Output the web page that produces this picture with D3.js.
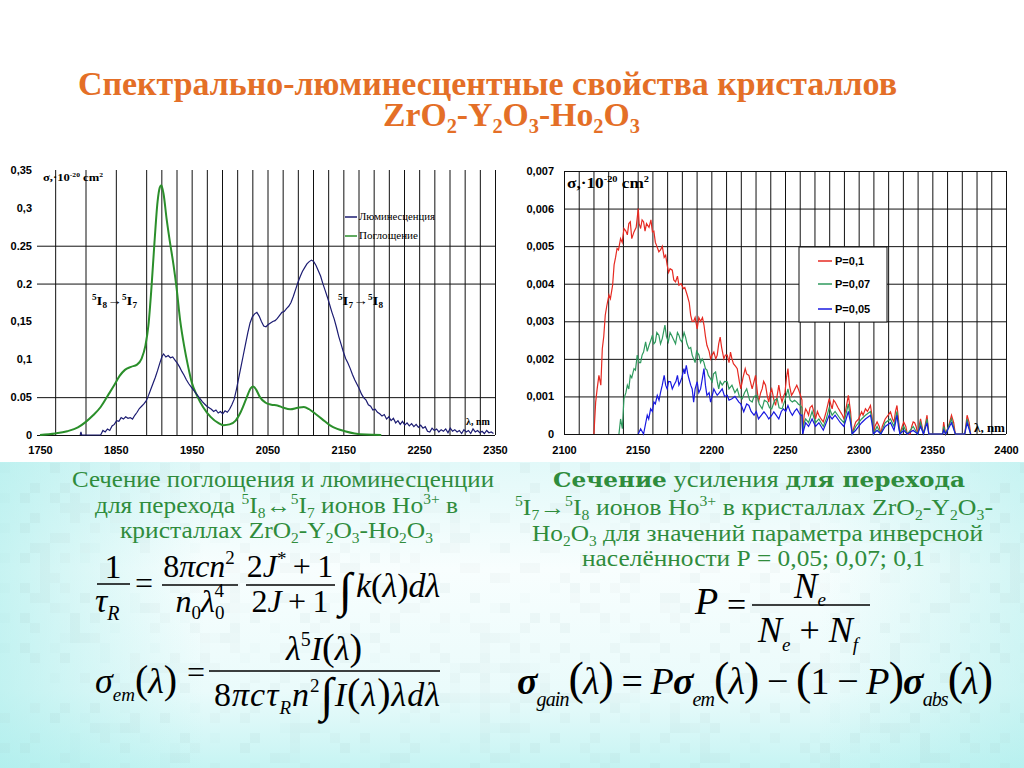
<!DOCTYPE html>
<html>
<head>
<meta charset="utf-8">
<script src="https://cdnjs.cloudflare.com/ajax/libs/d3/7.8.5/d3.min.js"></script>
<style>
  body { margin: 0; background: #fff; }
  svg { display: block; }
</style>
</head>
<body>
<div id="main"></div>
<script>
// ---- left chart: absorption / luminescence cross sections, [nm, sigma] ----
var absorption = [
  [1750,0],[1770,0.002],[1786,0.005],[1800,0.010],[1810,0.017],[1820,0.026],[1830,0.037],
  [1840,0.053],[1848,0.066],[1855,0.078],[1862,0.086],[1870,0.090],[1878,0.093],[1884,0.101],
  [1889,0.118],[1893,0.145],[1897,0.195],[1901,0.255],[1905,0.308],[1908,0.327],[1910,0.330],
  [1913,0.318],[1917,0.285],[1921,0.257],[1926,0.225],[1930,0.195],[1935,0.150],[1940,0.118],
  [1945,0.092],[1950,0.070],[1957,0.052],[1965,0.037],[1975,0.024],[1985,0.016],[1992,0.013],
  [2000,0.014],[2008,0.019],[2015,0.031],[2022,0.048],[2028,0.062],[2031,0.064],[2035,0.060],
  [2040,0.050],[2047,0.043],[2055,0.040],[2063,0.039],[2071,0.036],[2080,0.034],[2090,0.036],
  [2098,0.037],[2105,0.034],[2113,0.028],[2122,0.021],[2132,0.013],[2142,0.008],[2152,0.005],
  [2165,0.002],[2180,0.0005],[2200,0]
];
var luminescence = [
  [1803,0],[1804,0.004],[1805,0],[1830,0],[1833,0.006],[1836,0.004],[1839,0.008],[1842,0.006],
  [1845,0.012],[1848,0.014],[1851,0.019],[1854,0.018],[1857,0.023],[1860,0.021],[1863,0.024],
  [1866,0.022],[1869,0.023],[1872,0.021],[1875,0.026],[1878,0.030],[1881,0.035],[1884,0.038],
  [1887,0.041],[1890,0.045],[1893,0.052],[1896,0.060],[1899,0.068],[1902,0.076],[1905,0.085],
  [1908,0.095],[1911,0.104],[1913,0.107],[1916,0.103],[1919,0.105],[1922,0.102],[1925,0.103],
  [1928,0.099],[1931,0.095],[1934,0.090],[1937,0.084],[1940,0.079],[1943,0.073],[1946,0.068],
  [1949,0.064],[1952,0.060],[1955,0.056],[1958,0.052],[1961,0.048],[1964,0.044],[1967,0.041],
  [1970,0.038],[1973,0.036],[1976,0.034],[1979,0.031],[1982,0.033],[1985,0.029],[1988,0.031],
  [1991,0.028],[1994,0.032],[1997,0.030],[2000,0.034],[2003,0.040],[2006,0.047],[2009,0.060],
  [2012,0.075],[2015,0.090],[2018,0.105],[2021,0.120],[2024,0.135],[2027,0.148],[2030,0.156],
  [2033,0.160],[2036,0.162],[2039,0.157],[2042,0.150],[2045,0.144],[2048,0.143],[2051,0.146],
  [2054,0.148],[2057,0.150],[2060,0.151],[2063,0.154],[2066,0.158],[2069,0.162],[2072,0.163],
  [2075,0.167],[2078,0.170],[2081,0.175],[2084,0.183],[2087,0.192],[2090,0.201],[2093,0.209],
  [2096,0.216],[2099,0.221],[2102,0.226],[2105,0.229],[2108,0.231],[2111,0.229],[2114,0.224],
  [2117,0.217],[2120,0.210],[2123,0.200],[2126,0.191],[2129,0.182],[2132,0.172],[2135,0.162],
  [2138,0.153],[2141,0.142],[2144,0.130],[2147,0.120],[2150,0.110],[2153,0.101],[2156,0.095],
  [2159,0.088],[2162,0.080],[2165,0.073],[2168,0.067],[2171,0.061],[2174,0.054],[2177,0.049],
  [2180,0.046],[2183,0.040],[2186,0.038],[2189,0.033],[2192,0.034],[2195,0.030],[2198,0.028],
  [2201,0.025],[2204,0.027],[2207,0.021],[2210,0.024],[2213,0.019],[2216,0.022],[2219,0.016],
  [2222,0.019],[2225,0.014],[2228,0.018],[2231,0.013],[2234,0.016],[2237,0.012],[2240,0.015],
  [2243,0.011],[2246,0.014],[2249,0.010],[2252,0.013],[2255,0.009],[2258,0.011],[2261,0.005],
  [2264,0.004],[2267,0.009],[2270,0.006],[2273,0.008],[2276,0.004],[2279,0.007],[2282,0.005],
  [2285,0.008],[2288,0.003],[2291,0.009],[2294,0.005],[2297,0.007],[2300,0.004],[2303,0.006],
  [2306,0.002],[2309,0.007],[2312,0.004],[2315,0.006],[2318,0.002],[2321,0.008],[2324,0.004],
  [2327,0.006],[2330,0.003],[2333,0.005],[2336,0.002],[2339,0.006],[2342,0.003],[2345,0.004],
  [2348,0.002]
];
var xLabelsL = ['1750', '1850', '1950', '2050', '2150', '2250', '2350'];
var yValuesL = [0.35, 0.3, 0.25, 0.2, 0.15, 0.1, 0.05, 0];
var yLabelsL = ['0,35', '0,3', '0.25', '0.2', '0,15', '0,1', '0.05', '0'];
var vGridL = [1770, 1810, 1850, 1890, 1910, 1930, 1950, 1970, 1990, 2010, 2030, 2050, 2070,
  2090, 2110, 2130, 2150, 2170, 2190, 2210, 2230, 2250, 2270, 2290, 2310, 2330, 2350];
var hGridL = [0, 0.05, 0.2, 0.25];
var legendL = ['Люминесценция', 'Поглощение'];

// ---- right chart: gain cross section for P = 0.1, 0.07, 0.05 ----
var gainP10 = [
  [2120.3,0],[2121.5,0.00085],[2122.5,0.0012],[2123.7,0.00156],[2125,0.0013],[2126,0.00227],
  [2127,0.0026],[2128,0.00316],[2129,0.0034],[2130.5,0.0037],[2131.5,0.0036],[2133,0.00396],
  [2134,0.0045],[2135,0.0047],[2136,0.00494],[2137,0.0049],[2138.4,0.0052],[2139.5,0.0051],
  [2140.7,0.00547],[2142,0.0054],[2143,0.0053],[2144,0.0056],[2145,0.00565],[2146,0.0052],
  [2147.5,0.00538],[2149,0.0055],[2150.4,0.006],[2151,0.0056],[2152,0.00547],[2153,0.0057],
  [2154,0.00565],[2155,0.0054],[2156,0.0056],[2157.7,0.0055],[2159,0.0057],[2160,0.00538],
  [2161,0.0054],[2162,0.0051],[2163,0.0050],[2164.4,0.00485],[2165.5,0.0049],[2166.7,0.005],
  [2168,0.0047],[2169,0.00476],[2170,0.0045],[2171,0.0043],[2172,0.0044],[2173.5,0.00436],
  [2174.5,0.0041],[2175.7,0.00405],[2177,0.0042],[2178,0.00396],[2179.5,0.0040],[2181,0.00387],
  [2182,0.0039],[2183.6,0.0037],[2185,0.0035],[2186,0.00316],[2187,0.0030],[2188,0.003],
  [2189,0.0031],[2190.4,0.0028],[2191.5,0.0031],[2192.7,0.003],[2194,0.0031],[2195,0.0029],
  [2196,0.0026],[2197,0.00236],[2198.5,0.0022],[2199.5,0.002],[2200.5,0.0021],[2201.7,0.00218],
  [2203,0.0020],[2204,0.0021],[2205,0.0024],[2206,0.00258],[2207,0.0023],[2208.5,0.002],
  [2209.5,0.0021],[2210.8,0.0021],[2212,0.0019],[2213,0.00218],[2214,0.0020],[2215,0.00187],
  [2216.5,0.0018],[2217.6,0.00174],[2219,0.0014],[2220,0.0012],[2221.5,0.0015],[2223,0.00174],
  [2224,0.0016],[2225.5,0.00156],[2226.5,0.0014],[2227.7,0.0012],[2229,0.0014],[2230,0.00156],
  [2231,0.0012],[2232,0.00085],[2233.5,0.0011],[2234.5,0.0012],[2235.5,0.0014],[2236.8,0.0013],
  [2238,0.0010],[2239,0.00085],[2240,0.0011],[2241,0.0012],[2242.5,0.0009],[2243.6,0.00076],
  [2245,0.0011],[2245.8,0.0013],[2247,0.0010],[2248,0.00085],[2249,0.0010],[2250,0.0011],
  [2251,0.0015],[2252,0.00174],[2253,0.0013],[2254.4,0.00103],[2255.5,0.0011],[2256.7,0.0012],
  [2258,0.0013],[2259,0.0012],[2260.5,0.00103],[2261.5,0.0009],[2262,0],[2263,0.0005],
  [2264,0.00067],[2265,0.0006],[2266,0.0005],[2267,0.0007],[2268.4,0.00076],[2269.5,0.0006],
  [2270.7,0.0004],[2272,0.0006],[2273,0.0005],[2274.5,0.0004],[2276,0.00032],[2278,0.0006],
  [2280,0.00094],[2281,0.0008],[2282,0.00067],[2283,0.0009],[2284,0.00085],[2286,0.0007],
  [2287.6,0.00059],[2289,0.0005],[2290,0.0004],[2291.5,0.0007],[2293,0.00103],[2294.5,0.0006],
  [2295.6,0],[2297,0.0002],[2298,0.00032],[2300,0.0004],[2302,0.00059],[2303,0.0005],
  [2304.6,0.00067],[2306,0.0006],[2308,0.00076],[2309,0.0005],[2310,0],[2311,0.0002],
  [2312.5,0.00032],[2314,0.0002],[2315,0],[2316,0.0002],[2318,0.0004],[2320,0.0005],
  [2321.6,0.00059],[2323,0.0004],[2324,0.00032],[2325,0.0006],[2326,0.00076],[2327,0.0004],
  [2328,0],[2329.5,0.0002],[2330.6,0.00032],[2332,0.0002],[2333,0],[2335,0],[2336,0.0002],
  [2337,0.00032],[2338,0.0003],[2339,0.0002],[2340,0],[2341,0.0002],[2342,0.0004],[2343,0.0002],
  [2344,0],[2345,0.0002],[2346.4,0.0005],[2347.6,0],[2357,0],[2357.7,0.00032],[2359,0],
  [2361,0.0002],[2363,0.0005],[2364.5,0.0003],[2365.6,0],[2372,0],[2373.6,0.0005],
  [2375,0.0003],[2376,0]
];
var gainP07 = [
  [2137.3,0],[2138.4,0.0004],[2139.6,0.00014],[2140.7,0.00094],[2142,0.0011],[2143,0.0013],
  [2144,0.0012],[2145,0.00156],[2146,0.0015],[2147.5,0.00174],[2148.5,0.0017],[2149.7,0.0021],
  [2151,0.0019],[2152,0.0019],[2153,0.0021],[2154,0.00218],[2155.4,0.00245],[2156.5,0.0022],
  [2157.7,0.00236],[2159,0.0025],[2160,0.00263],[2161,0.0024],[2162,0.00245],[2163,0.0027],
  [2164.4,0.00263],[2165.5,0.0024],[2166.7,0.00254],[2168.5,0.0029],[2169.5,0.0026],
  [2170.8,0.00245],[2172,0.0027],[2173,0.00263],[2174.5,0.0025],[2175.7,0.0024],[2177,0.0027],
  [2178,0.00263],[2179,0.0025],[2180,0.00245],[2181.5,0.0027],[2182.5,0.00258],[2183.5,0.0024],
  [2184.8,0.00227],[2186,0.0023],[2187,0.0021],[2188,0.0020],[2189,0.0019],[2190,0.0022],
  [2191.6,0.0021],[2192.7,0.0019],[2193.8,0.002],[2195,0.0019],[2196,0.00174],[2197,0.0017],
  [2198,0.00156],[2199,0.0015],[2200.6,0.00139],[2201.5,0.0016],[2202.9,0.00165],[2204,0.0014],
  [2205,0.0012],[2206,0.0014],[2207.4,0.0013],[2209,0.0014],[2210.8,0.00139],[2212,0.0012],
  [2214,0.0013],[2216,0.0011],[2217.6,0.0012],[2219,0.0010],[2221,0.00094],[2222.5,0.0011],
  [2224,0.0012],[2226,0.0009],[2227.7,0.00085],[2229,0.0010],[2231,0.00103],[2232.5,0.0008],
  [2234.5,0.00067],[2236,0.0009],[2238,0.00085],[2239.5,0.0007],[2241,0.00067],[2243,0.0009],
  [2244.7,0.00094],[2246,0.0007],[2248,0.00067],[2250,0.0009],[2252,0.0012],[2253.5,0.0009],
  [2255,0.00085],[2256.5,0.0009],[2258,0.00085],[2259,0.0008],[2260.5,0.00076],[2261.5,0.0007],
  [2262,0],[2263,0.0003],[2264,0.0004],[2266,0.0003],[2268.4,0.0006],[2270.7,0.0003],
  [2273,0.0004],[2276,0.0002],[2278,0.0004],[2280,0.0007],[2282,0.0005],[2284,0.0006],
  [2287.6,0.0004],[2290,0.0003],[2293,0.0008],[2294.5,0.0004],[2295.6,0],[2298,0.0002],
  [2300,0.0003],[2302,0.0004],[2304.6,0.0005],[2308,0.0006],[2309,0.0004],[2310,0],
  [2312.5,0.0002],[2315,0],[2318,0.0003],[2321.6,0.0004],[2324,0.0002],[2326,0.0006],
  [2327,0.0003],[2328,0],[2330.6,0.0002],[2333,0],[2337,0.0002],[2340,0],[2342,0.0003],
  [2344,0],[2346.4,0.0004],[2347.6,0],[2357,0],[2357.7,0.0002],[2359,0],[2363,0.0004],
  [2365.6,0],[2372,0],[2373.6,0.0004],[2376,0]
];
var gainP05 = [
  [2150.4,0],[2152,0.00014],[2154,0],[2156.5,0.0005],[2157.5,0.0004],[2158.8,0.00067],
  [2160,0.0006],[2161,0.00085],[2162,0.0008],[2163.3,0.00103],[2164.5,0.0009],[2165.5,0.0011],
  [2166.7,0.0013],[2168,0.00156],[2169,0.0013],[2170,0.0012],[2171,0.0014],[2172.3,0.00139],
  [2173.5,0.0012],[2174.6,0.0013],[2176,0.0014],[2177,0.00156],[2178,0.0013],[2179,0.00139],
  [2180,0.0015],[2181.4,0.00174],[2182,0.0016],[2183,0.00183],[2184,0.0016],[2184.8,0.00147],
  [2186,0.0013],[2187,0.0012],[2188,0.00085],[2189,0.0012],[2190.4,0.00139],[2191.5,0.0011],
  [2192.7,0.0012],[2194,0.0015],[2195,0.00174],[2196,0.0013],[2197,0.00103],[2198.5,0.0011],
  [2199.5,0.00085],[2200.5,0.0010],[2201.7,0.0012],[2203,0.0011],[2204,0.00103],[2205.5,0.0011],
  [2207.4,0.0012],[2209,0.0010],[2210.8,0.00103],[2212,0.0009],[2214,0.00094],[2216,0.0010],
  [2218.7,0.00085],[2220,0.0008],[2222,0.00059],[2224,0.0008],[2225.5,0.00076],[2227,0.0006],
  [2229,0.0005],[2230.5,0.0006],[2232,0.0004],[2234,0.0005],[2235.7,0.00059],[2237.5,0.0005],
  [2239,0.0004],[2241,0.0005],[2242.4,0.00059],[2244,0.0005],[2245.8,0.0004],[2247.5,0.0006],
  [2249,0.00067],[2250.5,0.0006],[2252,0.00076],[2253.5,0.0006],[2255,0.0005],[2256.5,0.0006],
  [2258,0.00067],[2259,0.0006],[2260.5,0.0005],[2261.5,0.0005],[2262,0],[2264,0.0003],
  [2266,0.0002],[2268.4,0.0004],[2270.7,0.0002],[2273,0.0003],[2276,0.0001],[2278,0.0003],
  [2280,0.0005],[2282,0.0004],[2284,0.0005],[2287.6,0.0003],[2290,0.0002],[2293,0.0006],
  [2294.5,0.0003],[2295.6,0],[2298,0.0001],[2300,0.0002],[2302,0.0003],[2304.6,0.0004],
  [2308,0.0005],[2309,0.0003],[2310,0],[2312.5,0.0001],[2315,0],[2318,0.0002],[2321.6,0.0003],
  [2324,0.0001],[2326,0.0005],[2327,0.0002],[2328,0],[2330.6,0.0001],[2333,0],[2337,0.0001],
  [2340,0],[2342,0.0002],[2344,0],[2346.4,0.0003],[2347.6,0],[2357,0],[2357.7,0.0001],
  [2359,0],[2363,0.0003],[2365.6,0],[2372,0],[2373.6,0.0003],[2376,0]
];
var xLabelsR = ['2100', '2150', '2200', '2250', '2300', '2350', '2400'];
var yValuesR = [0.007, 0.006, 0.005, 0.004, 0.003, 0.002, 0.001, 0];
var yLabelsR = ['0,007', '0,006', '0,005', '0,004', '0,003', '0,002', '0,001', '0'];
var legendR = ['P=0,1', 'P=0,07', 'P=0,05'];
var colorsR = ['#e62a22', '#2f9a5e', '#1a1ae0'];

var SERIF = "'Liberation Serif', 'Times New Roman', Times, serif";
var SANS = "'Liberation Sans', Arial, Helvetica, sans-serif";

var svg = d3.select('#main').append('svg').attr('width', 1024).attr('height', 768);
var defs = svg.append('defs');

// ---------- background of the lower half ----------
var lg = defs.append('linearGradient').attr('id', 'bgv').attr('x1', 0).attr('y1', 0).attr('x2', 0).attr('y2', 1);
lg.append('stop').attr('offset', '0%').attr('stop-color', '#e2f9f9');
lg.append('stop').attr('offset', '35%').attr('stop-color', '#f8fefe');
lg.append('stop').attr('offset', '75%').attr('stop-color', '#eafbfb');
lg.append('stop').attr('offset', '100%').attr('stop-color', '#c6f4f3');
var lh = defs.append('linearGradient').attr('id', 'bgh').attr('x1', 0).attr('y1', 0).attr('x2', 1).attr('y2', 0);
lh.append('stop').attr('offset', '0%').attr('stop-color', '#a6ecea').attr('stop-opacity', 0.6);
lh.append('stop').attr('offset', '20%').attr('stop-color', '#a6ecea').attr('stop-opacity', 0);
lh.append('stop').attr('offset', '80%').attr('stop-color', '#a6ecea').attr('stop-opacity', 0);
lh.append('stop').attr('offset', '100%').attr('stop-color', '#a6ecea').attr('stop-opacity', 0.45);

svg.append('rect').attr('x', 0).attr('y', 462).attr('width', 1024).attr('height', 306).attr('fill', 'url(#bgv)');
svg.append('rect').attr('x', 0).attr('y', 462).attr('width', 1024).attr('height', 306).attr('fill', 'url(#bgh)');

// faint mosaic squares (fixed pattern)
var cells = [];
for (var i = 0; i < 103; i++) {
  for (var j = 0; j < 31; j++) {
    var h = ((i * 7919 + j * 104729 + i * j * 31) % 97);
    if (h < 26) cells.push({i: i, j: j, a: 0.025 + (h % 4) * 0.012});
  }
}
svg.append('g').selectAll('rect').data(cells).enter().append('rect')
  .attr('x', function(d) { return d.i * 10; })
  .attr('y', function(d) { return 463 + d.j * 10; })
  .attr('width', 10).attr('height', 10)
  .attr('fill', '#809a9a')
  .attr('fill-opacity', function(d) { return d.a; });

// ---------- rich text helper (sub / superscripts) ----------
function rich(g, x, y, base, parts) {
  var t = g.append('text').attr('x', x).attr('y', y)
    .style('font-family', base.ff || SERIF)
    .style('font-size', base.fs + 'px')
    .style('fill', base.fill || '#000');
  if (base.fw) t.style('font-weight', base.fw);
  if (base.anchor) t.attr('text-anchor', base.anchor);
  var cur = 0;
  parts.forEach(function(p) {
    if (typeof p === 'string') p = {t: p};
    var sh = p.sh != null ? p.sh : p.k === 'sup' ? -0.4 * base.fs : p.k === 'sub' ? 0.22 * base.fs : 0;
    var s = t.append('tspan').text(p.t);
    if (sh !== cur) s.attr('dy', sh - cur);
    cur = sh;
    var fs = p.fs || (p.k ? Math.round(base.fs * 0.62) : null);
    if (fs) s.style('font-size', fs + 'px');
    if (p.i) s.style('font-style', 'italic');
    if (p.b) s.style('font-weight', 'bold');
    if (p.n) s.style('font-weight', 'normal');
    if (p.ff) s.style('font-family', p.ff);
    if (p.dx) s.attr('dx', p.dx);
  });
  if (base.len) t.attr('textLength', base.len).attr('lengthAdjust', base.adj || 'spacingAndGlyphs');
  return t;
}
function styleTicks(a) {
  a.select('.domain').remove();
  a.selectAll('text').style('font-family', SANS).style('font-weight', 'bold').style('font-size', '11px').attr('fill', '#000');
}
function styleGrid(a) {
  a.select('.domain').remove();
  a.selectAll('line').attr('stroke', '#111').attr('stroke-width', 1);
}

// ---------- title ----------
var orange = '#e46f27';
rich(svg, 78, 95, {fs: 33, fw: 'bold', fill: orange, len: 819}, ['Спектрально-люминесцентные свойства кристаллов']);
rich(svg, 383, 126, {fs: 33, fw: 'bold', fill: orange, len: 257},
  ['ZrO', {t: '2', k: 'sub'}, '-Y', {t: '2', k: 'sub'}, 'O', {t: '3', k: 'sub'}, '-Ho', {t: '2', k: 'sub'}, 'O', {t: '3', k: 'sub'}]);

// ---------- left chart ----------
var xL = d3.scaleLinear().domain([1750, 2350]).range([40, 495]);
var yL = d3.scaleLinear().domain([0, 0.35]).range([435, 170]);
var gL = svg.append('g');

gL.append('g').attr('transform', 'translate(0,435)')
  .call(d3.axisBottom(xL).tickValues(vGridL).tickSize(-(435 - 170)).tickFormat(''))
  .call(styleGrid);
gL.append('g').attr('transform', 'translate(37,0)')
  .call(d3.axisLeft(yL).tickValues(hGridL).tickSize(-(495 - 37)).tickFormat(''))
  .call(styleGrid);

gL.append('g').attr('transform', 'translate(0,435)')
  .call(d3.axisBottom(xL).tickValues(xLabelsL.map(Number)).tickSize(0).tickPadding(11)
    .tickFormat(function(d, i) { return xLabelsL[i]; }))
  .call(styleTicks);
gL.append('g').attr('transform', 'translate(37,0)')
  .call(d3.axisLeft(yL).tickValues(yValuesL).tickSize(0).tickPadding(5)
    .tickFormat(function(d, i) { return yLabelsL[i]; }))
  .call(styleTicks);

var lineL = d3.line().x(function(d) { return xL(d[0]); }).y(function(d) { return yL(d[1]); });
gL.append('path').datum(absorption).attr('fill', 'none').attr('stroke', '#2b8f2b').attr('stroke-width', 2)
  .attr('d', lineL.curve(d3.curveMonotoneX));
gL.append('path').datum(luminescence).attr('fill', 'none').attr('stroke', '#1c1c72').attr('stroke-width', 1.2)
  .attr('d', d3.line().x(function(d) { return xL(d[0]); }).y(function(d) { return yL(d[1]); }));

// legend
[['#1c1c72', 217], ['#2b8f2b', 236]].forEach(function(l, i) {
  gL.append('line').attr('x1', 345).attr('x2', 357).attr('y1', l[1]).attr('y2', l[1]).attr('stroke', l[0]).attr('stroke-width', 1.5);
  rich(gL, 359, l[1] + 3, {fs: 10, len: i === 0 ? 76 : 59}, [legendL[i]]);
});
rich(gL, 43, 181, {fs: 10, fw: 'bold', len: 60}, ['σ,·10', {t: '-20', k: 'sup'}, ' cm', {t: '2', k: 'sup'}]);
rich(gL, 92, 305, {fs: 13, fw: 'bold', len: 45}, [{t: '5', k: 'sup'}, 'I', {t: '8', k: 'sub'}, {t: '→', n: 1}, {t: '5', k: 'sup'}, 'I', {t: '7', k: 'sub'}]);
rich(gL, 338, 305, {fs: 13, fw: 'bold', len: 45}, [{t: '5', k: 'sup'}, 'I', {t: '7', k: 'sub'}, {t: '→', n: 1}, {t: '5', k: 'sup'}, 'I', {t: '8', k: 'sub'}]);
rich(gL, 466, 425, {fs: 10, fw: 'bold'}, ['λ, nm']);

// ---------- right chart ----------
var xR = d3.scaleLinear().domain([2100, 2400]).range([564, 1006]);
var yR = d3.scaleLinear().domain([0, 0.007]).range([434, 171]);
var gR = svg.append('g');

gR.append('g').attr('transform', 'translate(0,434)')
  .call(d3.axisBottom(xR).tickValues(d3.range(2100, 2401, 10)).tickSize(-(434 - 171)).tickFormat(''))
  .call(styleGrid);
gR.append('g').attr('transform', 'translate(564,0)')
  .call(d3.axisLeft(yR).tickValues(yValuesR).tickSize(-(1006 - 564)).tickFormat(''))
  .call(styleGrid);

gR.append('g').attr('transform', 'translate(0,434)')
  .call(d3.axisBottom(xR).tickValues(xLabelsR.map(Number)).tickSize(0).tickPadding(12)
    .tickFormat(function(d, i) { return xLabelsR[i]; }))
  .call(styleTicks);
gR.append('g').attr('transform', 'translate(560,0)')
  .call(d3.axisLeft(yR).tickValues(yValuesR).tickSize(0).tickPadding(6)
    .tickFormat(function(d, i) { return yLabelsR[i]; }))
  .call(styleTicks);

var lineR = d3.line().x(function(d) { return xR(d[0]); }).y(function(d) { return yR(d[1]); });
[gainP10, gainP07, gainP05].forEach(function(s, i) {
  gR.append('path').datum(s).attr('fill', 'none').attr('stroke', colorsR[i]).attr('stroke-width', 1.2).attr('d', lineR);
});

// legend box
gR.append('rect').attr('x', 799).attr('y', 247).attr('width', 88).attr('height', 75)
  .attr('fill', '#fff').attr('stroke', '#111').attr('stroke-width', 1);
[261, 284, 309].forEach(function(y, i) {
  gR.append('line').attr('x1', 818).attr('x2', 832).attr('y1', y).attr('y2', y).attr('stroke', colorsR[i]).attr('stroke-width', 1.5);
  gR.append('text').attr('x', 835).attr('y', y + 4).text(legendR[i])
    .style('font-family', SANS).style('font-weight', 'bold').style('font-size', '11px');
});
rich(gR, 567, 188, {fs: 15, fw: 'bold', len: 82}, ['σ,·10', {t: '-20', k: 'sup'}, ' cm', {t: '2', k: 'sup'}]);
rich(gR, 974, 432, {fs: 13, fw: 'bold'}, ['λ, nm']);

// ---------- lower texts ----------
var green = '#2f8c3c';
var gT = svg.append('g');
rich(gT, 72, 487, {fs: 23, fill: green, len: 422}, ['Сечение поглощения и люминесценции']);
rich(gT, 95, 513, {fs: 23, fill: green, len: 363},
  ['для перехода ', {t: '5', k: 'sup'}, 'I', {t: '8', k: 'sub'}, '↔', {t: '5', k: 'sup'}, 'I', {t: '7', k: 'sub'}, ' ионов Но', {t: '3+', k: 'sup'}, ' в']);
rich(gT, 120, 538, {fs: 23, fill: green, len: 313},
  ['кристаллах ZrO', {t: '2', k: 'sub'}, '-Y', {t: '2', k: 'sub'}, 'O', {t: '3', k: 'sub'}, '-Ho', {t: '2', k: 'sub'}, 'O', {t: '3', k: 'sub'}]);

rich(gT, 553, 487, {fs: 23, fill: green, len: 412},
  [{t: 'Сечение', ff: "'DejaVu Serif', serif", fs: 20, b: 1}, ' усиления ', {t: 'для перехода', ff: "'DejaVu Serif', serif", fs: 20, b: 1}]);
rich(gT, 515, 515, {fs: 23, fill: green, len: 478},
  [{t: '5', k: 'sup'}, 'I', {t: '7', k: 'sub'}, '→', {t: '5', k: 'sup'}, 'I', {t: '8', k: 'sub'}, ' ионов Но', {t: '3+', k: 'sup'},
   ' в кристаллах ZrO', {t: '2', k: 'sub'}, '-Y', {t: '2', k: 'sub'}, 'O', {t: '3', k: 'sub'}, '-']);
rich(gT, 532, 541, {fs: 23, fill: green, len: 451},
  ['Ho', {t: '2', k: 'sub'}, 'O', {t: '3', k: 'sub'}, ' для значений параметра инверсной']);
rich(gT, 582, 566, {fs: 23, fill: green, len: 343}, ['населённости Р = 0,05; 0,07; 0,1']);

// ---------- formulas ----------
var gF = svg.append('g');
function bar(x1, x2, y) {
  gF.append('line').attr('x1', x1).attr('x2', x2).attr('y1', y).attr('y2', y).attr('stroke', '#000').attr('stroke-width', 1.6);
}
// 1/tau_R = 8πcn² / (n0 λ0⁴) · (2J*+1)/(2J+1) ∫k(λ)dλ
rich(gF, 113, 578, {fs: 34, anchor: 'middle'}, ['1']);
bar(97, 130, 584);
rich(gF, 95, 612, {fs: 34}, [{t: 'τ', i: 1}, {t: 'R', i: 1, fs: 20, sh: 8}]);
rich(gF, 135, 594, {fs: 32}, ['=']);
rich(gF, 199, 577, {fs: 32, anchor: 'middle'}, ['8', {t: 'πcn', i: 1}, {t: '2', fs: 19, sh: -13}]);
bar(162, 238, 585);
rich(gF, 200, 612, {fs: 32, anchor: 'middle'},
  [{t: 'n', i: 1}, {t: '0', fs: 19, sh: 7}, {t: 'λ', i: 1}, {t: '0', fs: 19, sh: 7}, {t: '4', fs: 19, sh: -15, dx: -10}]);
rich(gF, 290, 577, {fs: 32, anchor: 'middle'}, ['2', {t: 'J', i: 1}, {t: '*', fs: 19, sh: -12}, '\u2009+\u20091']);
bar(246, 335, 585);
rich(gF, 290, 612, {fs: 32, anchor: 'middle'}, ['2', {t: 'J', i: 1}, '\u2009+\u20091']);
rich(gF, 339, 606, {fs: 48}, ['∫']);
rich(gF, 356, 597, {fs: 34}, [{t: 'k', i: 1}, '(', {t: 'λ', i: 1}, ')', {t: 'd', i: 1}, {t: 'λ', i: 1}]);

// sigma_em(λ) = λ⁵I(λ) / (8πcτR n² ∫I(λ)λdλ)
rich(gF, 95, 693, {fs: 36}, [{t: 'σ', i: 1}, {t: 'em', i: 1, fs: 19, sh: 8}, {t: '(', fs: 40}, {t: 'λ', i: 1}, {t: ')', fs: 40}]);
rich(gF, 187, 683, {fs: 32}, ['=']);
bar(209, 440, 671);
rich(gF, 324, 660, {fs: 34, anchor: 'middle'}, [{t: 'λ', i: 1}, {t: '5', fs: 20, sh: -14}, {t: 'I', i: 1}, {t: '(', fs: 38}, {t: 'λ', i: 1}, {t: ')', fs: 38}]);
rich(gF, 214, 706, {fs: 34, len: 226, adj: 'spacing'},
  ['8', {t: 'πc', i: 1}, {t: 'τ', i: 1}, {t: 'R', i: 1, fs: 19, sh: 8}, {t: 'n', i: 1}, {t: '2', fs: 19, sh: -14},
   {t: '∫', fs: 48, sh: 5}, {t: 'I', i: 1}, {t: '(', fs: 40}, {t: 'λ', i: 1}, {t: ')', fs: 40}, {t: 'λdλ', i: 1}]);

// P = Ne/(Ne+Nf)
rich(gF, 695, 614, {fs: 38}, [{t: 'P', i: 1}]);
rich(gF, 727, 616, {fs: 34}, ['=']);
bar(752, 870, 605);
rich(gF, 810, 598, {fs: 35, anchor: 'middle'}, [{t: 'N', i: 1}, {t: 'e', i: 1, fs: 19, sh: 8}]);
rich(gF, 808, 642, {fs: 36, anchor: 'middle'},
  [{t: 'N', i: 1}, {t: 'e', i: 1, fs: 19, sh: 9}, ' + ', {t: 'N', i: 1}, {t: 'f', i: 1, fs: 19, sh: 9}]);

// sigma_gain
rich(gF, 517, 694, {fs: 38, len: 476, adj: 'spacing'},
  [{t: 'σ', i: 1, b: 1}, {t: 'gain', i: 1, fs: 20, sh: 12}, {t: '(', fs: 46}, {t: 'λ', i: 1}, {t: ')', fs: 46},
   ' = ', {t: 'P', i: 1}, {t: 'σ', i: 1, b: 1}, {t: 'em', i: 1, fs: 20, sh: 12}, {t: '(', fs: 46}, {t: 'λ', i: 1}, {t: ')', fs: 46},
   ' − ', {t: '(', fs: 46}, '1 − ', {t: 'P', i: 1}, {t: ')', fs: 46}, {t: 'σ', i: 1, b: 1}, {t: 'abs', i: 1, fs: 20, sh: 12},
   {t: '(', fs: 46}, {t: 'λ', i: 1}, {t: ')', fs: 46}]);
</script>
</body>
</html>
